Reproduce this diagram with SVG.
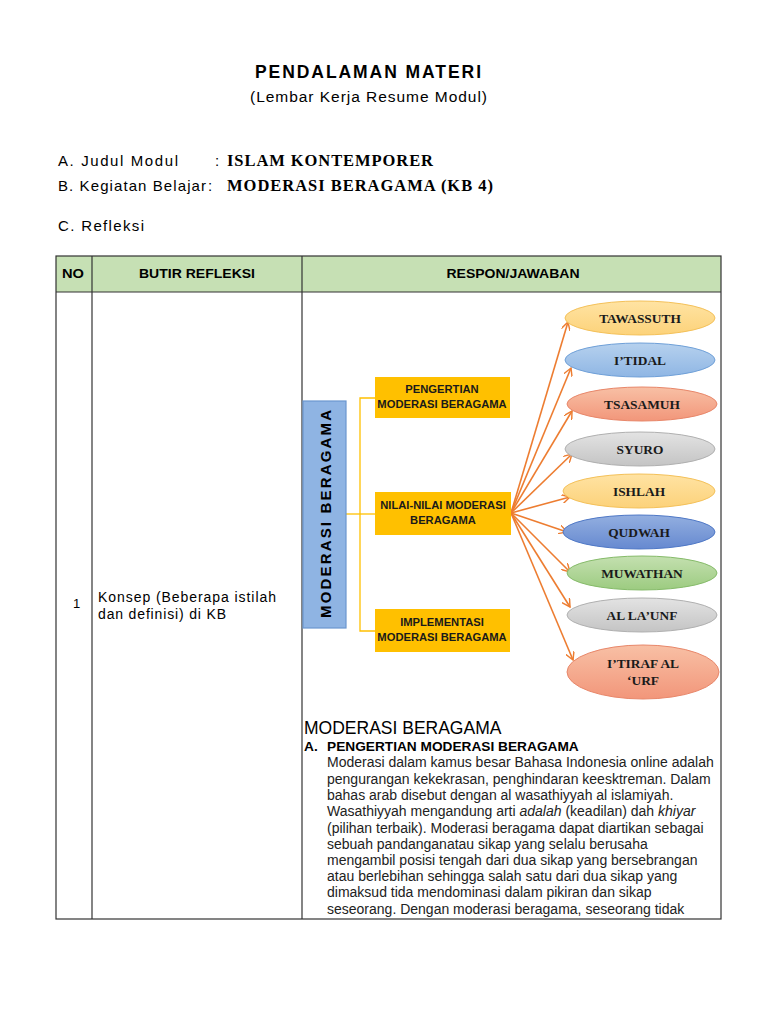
<svg xmlns="http://www.w3.org/2000/svg" width="768" height="1024" viewBox="0 0 768 1024">
<style>
.sans{font-family:"Liberation Sans",Arial,sans-serif;fill:#000}
.serif{font-family:"Liberation Serif","Times New Roman",serif;fill:#000}
.hd{font-family:"Liberation Sans",Arial,sans-serif;font-weight:bold;font-size:12.5px;text-anchor:middle}
.box{fill:#ffc000}
.bt{font-family:"Liberation Sans",Arial,sans-serif;font-weight:bold;font-size:11.2px;text-anchor:middle;fill:#1a1a1a}
.et{font-family:"Liberation Serif","Times New Roman",serif;font-weight:bold;font-size:13.4px;text-anchor:middle;fill:#1a1a1a}
.arr{stroke:#ed7d31;stroke-width:1.6;fill:none;marker-end:url(#ah)}
.br{stroke:#ffc000;stroke-width:1.3;fill:none}
.body{font-family:"Liberation Sans",Arial,sans-serif;font-size:14px;fill:#222}
</style>
<defs>
<marker id="ah" viewBox="0 0 10 10" refX="9" refY="5" markerWidth="9" markerHeight="9" markerUnits="userSpaceOnUse" orient="auto">
<path d="M0,0 L9,5 L0,10" fill="none" stroke="#ed7d31" stroke-width="1.6"/>
</marker>
<linearGradient id="gO" x1="0" y1="0" x2="0" y2="1"><stop offset="0" stop-color="#ffe3a3"/><stop offset="1" stop-color="#fcd27a"/></linearGradient>
<linearGradient id="gB" x1="0" y1="0" x2="0" y2="1"><stop offset="0" stop-color="#b6d1ee"/><stop offset="1" stop-color="#8fb6e4"/></linearGradient>
<linearGradient id="gS" x1="0" y1="0" x2="0" y2="1"><stop offset="0" stop-color="#f8c0a5"/><stop offset="1" stop-color="#f2967a"/></linearGradient>
<linearGradient id="gG" x1="0" y1="0" x2="0" y2="1"><stop offset="0" stop-color="#e3e3e3"/><stop offset="1" stop-color="#c4c4c4"/></linearGradient>
<linearGradient id="gD" x1="0" y1="0" x2="0" y2="1"><stop offset="0" stop-color="#93afe0"/><stop offset="1" stop-color="#6689d0"/></linearGradient>
<linearGradient id="gN" x1="0" y1="0" x2="0" y2="1"><stop offset="0" stop-color="#c4e0b0"/><stop offset="1" stop-color="#9ccb80"/></linearGradient>
</defs>
<rect width="768" height="1024" fill="#fff"/>

<g id="header-text">
<text x="255" y="78" class="sans" font-size="17.5" font-weight="bold" textLength="226" lengthAdjust="spacing">PENDALAMAN MATERI</text>
<text x="250" y="102" class="sans" font-size="15.5" textLength="237" lengthAdjust="spacing">(Lembar Kerja Resume Modul)</text>
<text x="58" y="166" class="sans" font-size="15" textLength="120" lengthAdjust="spacing">A. Judul Modul</text>
<text x="215" y="166" class="sans" font-size="15">:</text>
<text x="227" y="166" class="serif" font-size="16.5" font-weight="bold" textLength="206" lengthAdjust="spacing">ISLAM KONTEMPORER</text>
<text x="58" y="191" class="sans" font-size="15" textLength="148" lengthAdjust="spacing">B. Kegiatan Belajar</text>
<text x="208" y="191" class="sans" font-size="15">:</text>
<text x="227" y="191" class="serif" font-size="16.5" font-weight="bold" textLength="266" lengthAdjust="spacing">MODERASI BERAGAMA (KB 4)</text>
<text x="58" y="231" class="sans" font-size="15" textLength="86" lengthAdjust="spacing">C. Refleksi</text>
</g>

<g id="table">
<rect x="56" y="256" width="665" height="36" fill="#c6e0b4"/>
<rect x="56" y="256" width="665" height="663" fill="none" stroke="#333" stroke-width="1.2"/>
<line x1="56" y1="292" x2="721" y2="292" stroke="#333" stroke-width="1.2"/>
<line x1="92" y1="256" x2="92" y2="919" stroke="#333" stroke-width="1.2"/>
<line x1="302" y1="256" x2="302" y2="919" stroke="#333" stroke-width="1.2"/>
<text x="73" y="278" class="hd" textLength="22" lengthAdjust="spacingAndGlyphs">NO</text>
<text x="197" y="278" class="hd" textLength="116" lengthAdjust="spacingAndGlyphs">BUTIR REFLEKSI</text>
<text x="513" y="278" class="hd" textLength="133" lengthAdjust="spacingAndGlyphs">RESPON/JAWABAN</text>
<text x="73" y="608" class="sans" font-size="13">1</text>
<text x="98" y="602" class="sans" font-size="14" textLength="178" lengthAdjust="spacing">Konsep (Beberapa istilah</text>
<text x="98" y="619" class="sans" font-size="14" textLength="128" lengthAdjust="spacing">dan definisi) di KB</text>
</g>

<g id="connectors">
<line x1="346" y1="514" x2="375" y2="514" class="br"/>
<polyline points="375,398 360,398 360,631 375,631" class="br"/>
<line x1="511" y1="513" x2="568" y2="322" class="arr"/>
<line x1="511" y1="513" x2="571" y2="368" class="arr"/>
<line x1="511" y1="513" x2="572" y2="411" class="arr"/>
<line x1="511" y1="513" x2="572" y2="454" class="arr"/>
<line x1="511" y1="513" x2="570" y2="497" class="arr"/>
<line x1="511" y1="513" x2="567" y2="532" class="arr"/>
<line x1="511" y1="513" x2="570" y2="572" class="arr"/>
<line x1="511" y1="513" x2="570" y2="607" class="arr"/>
<line x1="511" y1="513" x2="573" y2="660" class="arr"/>
</g>

<g id="node-moderasi">
<rect x="303" y="401" width="43" height="227" fill="#8fb4e3" stroke="#6b97cf" stroke-width="1.2"/>
<text transform="translate(331,514) rotate(-90)" class="sans" font-size="15" font-weight="bold" text-anchor="middle" textLength="208" lengthAdjust="spacing" fill="#1a1a1a">MODERASI BERAGAMA</text>
</g>
<g id="node-pengertian">
<rect x="375" y="377" width="135" height="41" class="box"/>
<text x="442" y="393" class="bt">PENGERTIAN</text>
<text x="442" y="408" class="bt">MODERASI BERAGAMA</text>
</g>
<g id="node-nilai">
<rect x="375" y="492" width="136" height="43" class="box"/>
<text x="443" y="509" class="bt">NILAI-NILAI MODERASI</text>
<text x="443" y="524" class="bt">BERAGAMA</text>
</g>
<g id="node-implementasi">
<rect x="375" y="609" width="135" height="43" class="box"/>
<text x="442" y="626" class="bt">IMPLEMENTASI</text>
<text x="442" y="641" class="bt">MODERASI BERAGAMA</text>
</g>

<g id="node-tawassuth">
<ellipse cx="640" cy="318" rx="75" ry="17" fill="url(#gO)" stroke="#f4c15a" stroke-width="1"/>
<text x="640" y="323" class="et">TAWASSUTH</text>
</g>
<g id="node-itidal">
<ellipse cx="640" cy="360" rx="75" ry="17" fill="url(#gB)" stroke="#6fa0d8" stroke-width="1"/>
<text x="640" y="365" class="et">I’TIDAL</text>
</g>
<g id="node-tsasamuh">
<ellipse cx="642" cy="404" rx="75" ry="17" fill="url(#gS)" stroke="#e8876a" stroke-width="1"/>
<text x="642" y="409" class="et">TSASAMUH</text>
</g>
<g id="node-syuro">
<ellipse cx="640" cy="449" rx="75" ry="17" fill="url(#gG)" stroke="#b0b0b0" stroke-width="1"/>
<text x="640" y="454" class="et">SYURO</text>
</g>
<g id="node-ishlah">
<ellipse cx="639" cy="491" rx="76" ry="17" fill="url(#gO)" stroke="#f4c15a" stroke-width="1"/>
<text x="639" y="496" class="et">ISHLAH</text>
</g>
<g id="node-qudwah">
<ellipse cx="639" cy="532" rx="76" ry="17" fill="url(#gD)" stroke="#4f78c6" stroke-width="1"/>
<text x="639" y="537" class="et">QUDWAH</text>
</g>
<g id="node-muwathan">
<ellipse cx="642" cy="573" rx="75" ry="17" fill="url(#gN)" stroke="#86bb6a" stroke-width="1"/>
<text x="642" y="578" class="et">MUWATHAN</text>
</g>
<g id="node-allaunf">
<ellipse cx="642" cy="615" rx="75" ry="17" fill="url(#gG)" stroke="#b0b0b0" stroke-width="1"/>
<text x="642" y="620" class="et">AL LA’UNF</text>
</g>
<g id="node-itiraf">
<ellipse cx="643" cy="672" rx="76" ry="27" fill="url(#gS)" stroke="#e8876a" stroke-width="1"/>
<text x="643" y="668" class="et">I’TIRAF AL</text>
<text x="643" y="685" class="et">‘URF</text>
</g>

<g id="body-text">
<text x="304" y="734" class="sans" font-size="17.5">MODERASI BERAGAMA</text>
<text x="304" y="751" class="sans" font-size="13.7" font-weight="bold">A.</text>
<text x="327" y="751" class="sans" font-size="13.7" font-weight="bold">PENGERTIAN MODERASI BERAGAMA</text>
<text x="327" y="767" class="body">Moderasi dalam kamus besar Bahasa Indonesia online adalah</text>
<text x="327" y="784" class="body">pengurangan kekekrasan, penghindaran keesktreman. Dalam</text>
<text x="327" y="800" class="body">bahas arab disebut dengan al wasathiyyah  al islamiyah.</text>
<text x="327" y="816" class="body">Wasathiyyah mengandung arti <tspan font-style="italic">adalah</tspan> (keadilan) dah <tspan font-style="italic">khiyar</tspan></text>
<text x="327" y="833" class="body">(pilihan terbaik). Moderasi beragama dapat diartikan sebagai</text>
<text x="327" y="849" class="body">sebuah pandanganatau sikap yang selalu berusaha</text>
<text x="327" y="865" class="body">mengambil posisi tengah dari dua sikap yang bersebrangan</text>
<text x="327" y="881" class="body">atau berlebihan sehingga salah satu dari dua sikap yang</text>
<text x="327" y="897" class="body">dimaksud tida mendominasi dalam pikiran dan sikap</text>
<text x="327" y="914" class="body">seseorang. Dengan moderasi beragama, seseorang tidak</text>
</g>
</svg>
